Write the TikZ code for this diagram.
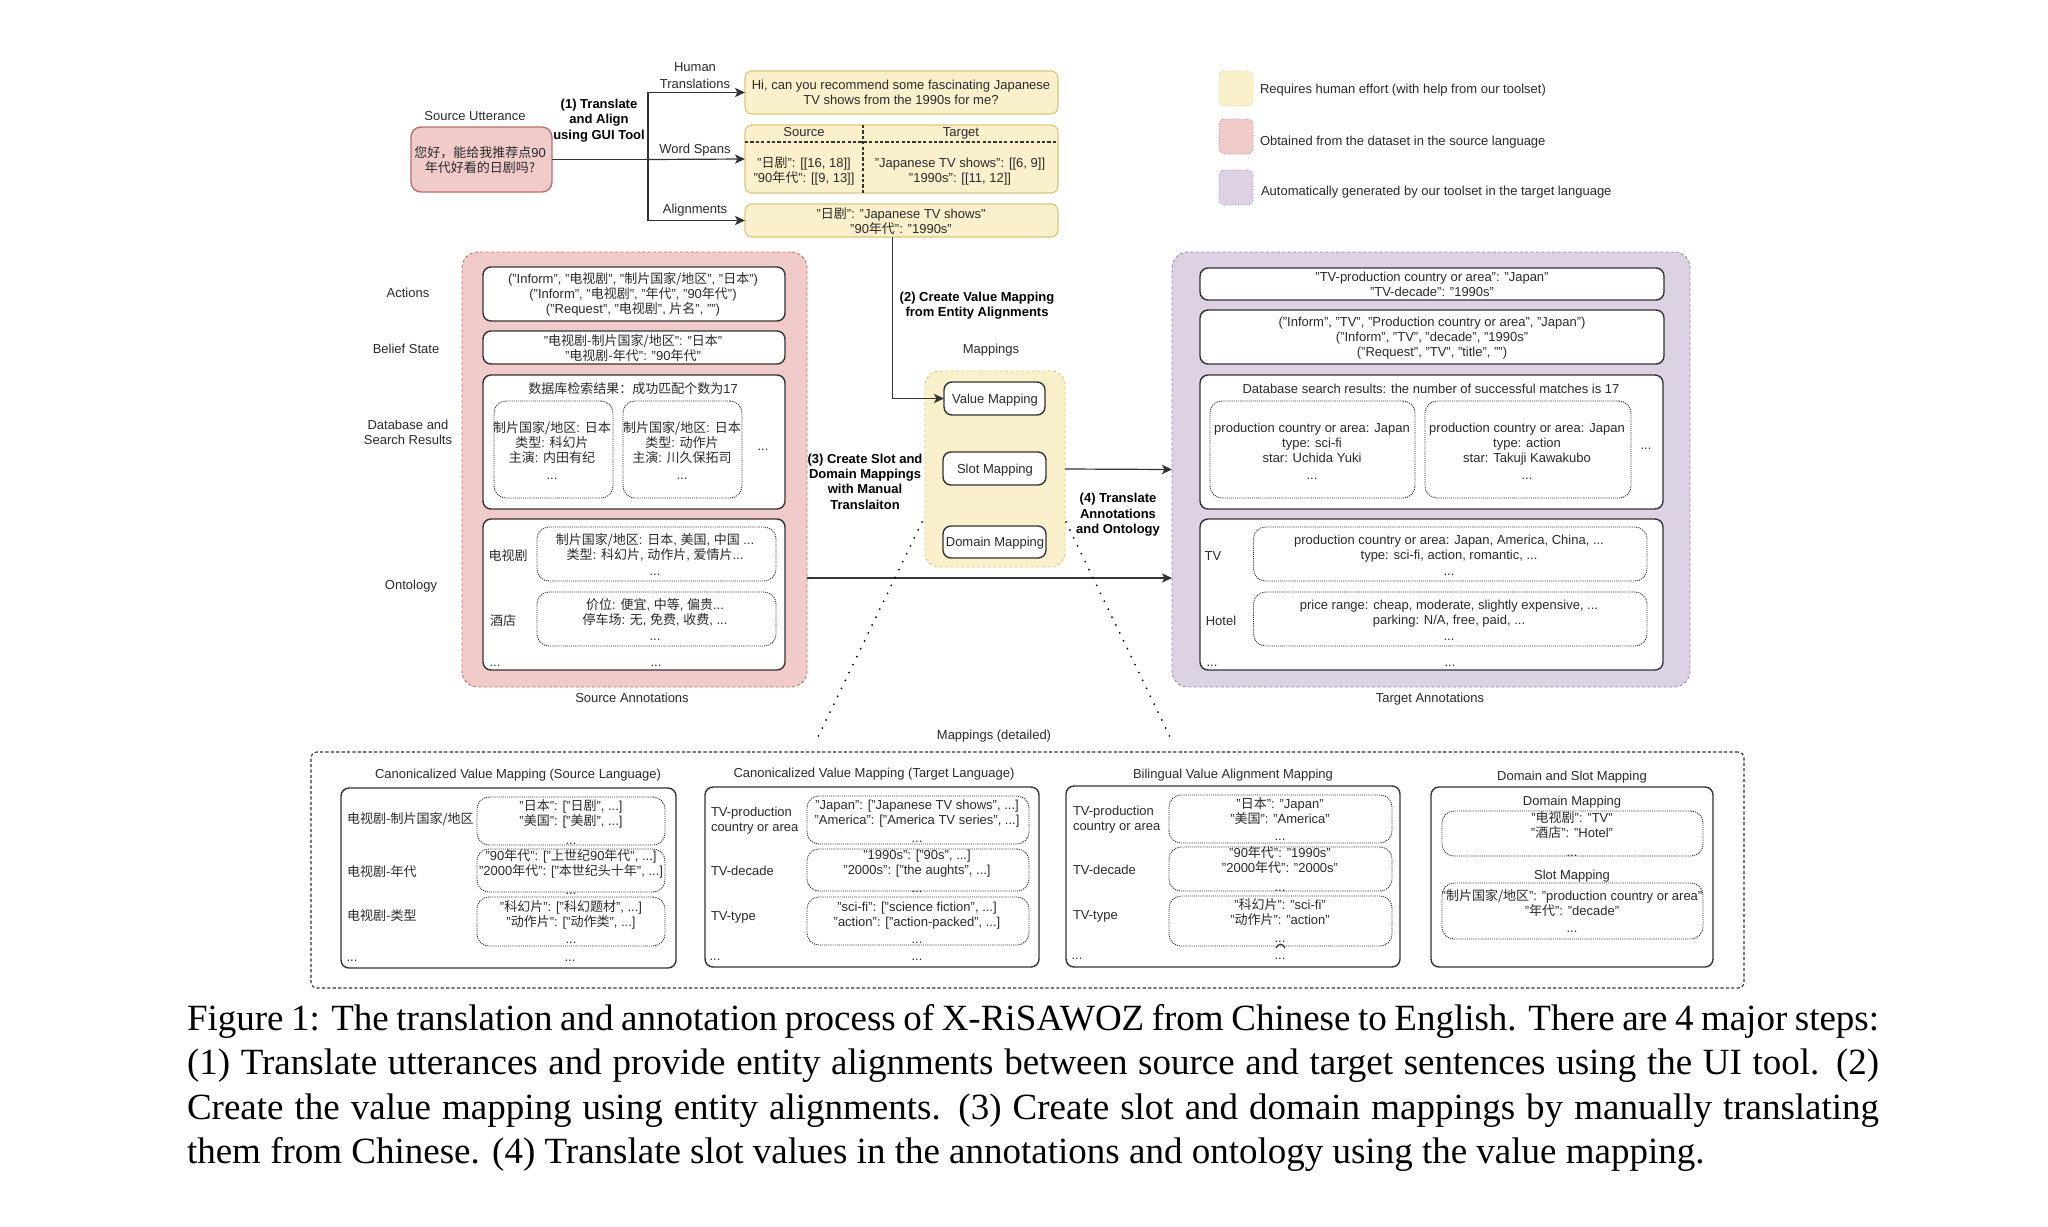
\documentclass[tikz,border=0pt]{standalone}
\usepackage{fontspec}
\setmainfont{Liberation Sans}
\newfontfamily\cjk{Noto Sans CJK SC}
\newfontfamily\capf{Liberation Serif}
\usetikzlibrary{arrows.meta,calc}
\definecolor{ink}{HTML}{2A2A2A}
\definecolor{edge}{HTML}{333333}
\definecolor{yfill}{HTML}{FBF0CC}
\definecolor{yline}{HTML}{DCC77E}
\definecolor{rfill}{HTML}{F0CBC9}
\definecolor{rline}{HTML}{B8706C}
\definecolor{pfill}{HTML}{DCD2E3}
\definecolor{pline}{HTML}{9A8AA6}
\newcommand\Z[1]{{\cjk #1}}
\newcommand\st{\vrule width 0pt height 6pt depth 1.4pt\relax}
\newcommand\bx[6]{%
  \pgfmathsetmacro\cx{(#3+#5)/2}\pgfmathsetmacro\cy{(#4+#6)/2}%
  \pgfmathsetmacro\wx{(#5-#3)*0.5}\pgfmathsetmacro\wy{(#6-#4)*0.5}%
  \node[#1,minimum width=\wx pt,minimum height=\wy pt,inner sep=0pt,outer sep=0pt] (#2) at (\cx,\cy) {};}
\newcommand\tx[5][]{\node[txt,#1] (#2) at (#3,#4) {\st #5\st};}
\tikzset{
  txt/.style={inner sep=0pt,outer sep=0pt,text=ink,align=center,font=\fontsize{6.5}{7.6}\selectfont},
  lab/.style={anchor=west,align=left},
  bld/.style={font=\fontsize{6.5}{7.7}\selectfont\bfseries,text=black},
  solidbox/.style={draw=edge,line width=0.7pt,fill=white,rounded corners=4pt},
  dotbox/.style={draw=edge,line width=0.45pt,dash pattern=on 0.55pt off 0.5pt,fill=white,rounded corners=6pt},
  ybox/.style={draw=yline,line width=0.6pt,fill=yfill,rounded corners=3.5pt},
  srcbox/.style={draw=rline,fill=rfill,line width=0.7pt,rounded corners=5pt},
  panelr/.style={draw=rline,line width=0.45pt,dash pattern=on 1.5pt off 1.2pt,fill=rfill,rounded corners=8pt},
  panelp/.style={draw=pline,line width=0.45pt,dash pattern=on 1.5pt off 1.2pt,fill=pfill,rounded corners=8pt},
  panely/.style={draw=yline,line width=0.45pt,dash pattern=on 1.5pt off 1.2pt,fill=yfill,rounded corners=7pt},
  legy/.style={draw=yline,line width=0.4pt,densely dotted,fill=yfill,rounded corners=2.5pt},
  legr/.style={draw=rline,line width=0.4pt,densely dotted,fill=rfill,rounded corners=2.5pt},
  legp/.style={draw=pline,line width=0.4pt,densely dotted,fill=pfill,rounded corners=2.5pt},
  arr/.style={draw=edge,line width=0.6pt,-{Stealth[length=5pt,width=4.6pt,inset=1.2pt]}},
  spaced/.style={draw=black,line width=1pt,line cap=round,dash pattern=on 0pt off 4.4pt},
  shortdash/.style={draw=edge,line width=0.55pt,dash pattern=on 1.6pt off 1.1pt},
}
\begin{document}
\begin{tikzpicture}[x=0.5pt,y=-0.5pt]
\useasboundingbox (0,0) rectangle (2048,1226);

% ---- step 1
\bx{srcbox}{src}{411}{127}{552}{192}
\tx{srcT}{480}{160}{\Z{您好，能给我推荐点}90\\\Z{年代好看的日剧吗?}}
\tx{srcL}{475}{116}{Source Utterance}
\tx[bld]{s1}{599}{119}{(1) Translate\\and Align\\using GUI Tool}
\tx{hl}{695}{75.5}{Human\\[0.6pt]Translations}
\tx{wl}{695}{149}{Word Spans}
\tx{al}{695}{209}{Alignments}
\bx{ybox}{b1}{745}{71}{1058}{114}
\tx{b1T}{901}{92.5}{Hi, can you recommend some fascinating Japanese\\TV shows from the 1990s for me?}
\bx{ybox}{b2}{745}{125}{1058}{193}
\coordinate (b2a) at (745,142);
\coordinate (b2b) at (1058,142);
\coordinate (b2c) at (863,125);
\coordinate (b2d) at (863,193);
\draw[shortdash] (b2a) -- (b2b);
\draw[shortdash] (b2c) -- (b2d);
\tx{b2S}{804}{132}{Source}
\tx{b2G}{961}{132}{Target}
\tx{b2L}{804}{170.5}{"\Z{日剧}": [[16, 18]]\\"90\Z{年代}": [[9, 13]]}
\tx{b2R}{960}{170.5}{"Japanese TV shows": [[6, 9]]\\"1990s": [[11, 12]]}
\bx{ybox}{b3}{745}{204}{1058}{237}
\tx{b3T}{901}{221.5}{"\Z{日剧}": "Japanese TV shows"\\"90\Z{年代}": "1990s"}
\coordinate (j) at (648,159.5);
\draw[edge,line width=0.6pt] (src.east) -- (j);
\draw[arr] (j) |- (b1.west);
\draw[arr] (j) -- (b2.west);
\draw[arr] (j) |- (b3.west);

% ---- legend
\bx{legy}{l1}{1219}{71}{1253}{106}
\bx{legr}{l2}{1219}{119}{1253}{154}
\bx{legp}{l3}{1219}{170}{1253}{205}
\tx[lab]{l1T}{1260}{88.5}{Requires human effort (with help from our toolset)}
\tx[lab]{l2T}{1260}{141}{Obtained from the dataset in the source language}
\tx[lab]{l3T}{1261}{191}{Automatically generated by our toolset in the target language}

% ---- source annotations
\tx{rA}{408}{293}{Actions}
\tx{rB}{406}{349}{Belief State}
\tx{rD}{408}{432}{Database and\\Search Results}
\tx{rO}{411}{585}{Ontology}
\bx{panelr}{sp}{462}{252}{807}{687}
\bx{solidbox}{sa}{483}{267}{785}{321}
\tx{saT}{633}{294}{("Inform", "\Z{电视剧}", "\Z{制片国家/地区}", "\Z{日本}")\\("Inform", "\Z{电视剧}", "\Z{年代}", "90\Z{年代}")\\("Request", "\Z{电视剧}", \Z{片名}", "")}
\bx{solidbox}{sb}{483}{331}{785}{364}
\tx{sbT}{633}{348}{"\Z{电视剧-制片国家/地区}": "\Z{日本}"\\"\Z{电视剧-年代}": "90\Z{年代}"}
\bx{solidbox}{sd}{483}{375}{785}{509}
\tx{sdT}{633}{389}{\Z{数据库检索结果：成功匹配个数为}17}
\bx{dotbox}{sd1}{494}{401}{613}{498}
\tx{sd1T}{552}{443}{\Z{制片国家/地区}: \Z{日本}\\\Z{类型}: \Z{科幻片}\\\Z{主演}: \Z{内田有纪}}
\tx{sd1d}{552}{475}{...}
\bx{dotbox}{sd2}{623}{401}{742}{498}
\tx{sd2T}{682}{443}{\Z{制片国家/地区}: \Z{日本}\\\Z{类型}: \Z{动作片}\\\Z{主演}: \Z{川久保拓司}}
\tx{sd2d}{682}{475}{...}
\tx{sdd}{763}{446}{...}
\bx{solidbox}{so}{483}{519}{785}{670}
\bx{dotbox}{so1}{537}{527}{776}{581}
\tx{so1T}{655}{547}{\Z{制片国家/地区}: \Z{日本}, \Z{美国}, \Z{中国} ...\\\Z{类型}: \Z{科幻片}, \Z{动作片}, \Z{爱情片}...}
\tx{so1d}{655}{571}{...}
\bx{dotbox}{so2}{537}{592}{776}{646}
\tx{so2T}{655}{612}{\Z{价位}: \Z{便宜}, \Z{中等}, \Z{偏贵}...\\\Z{停车场}: \Z{无}, \Z{免费}, \Z{收费}, ...}
\tx{so2d}{655}{636}{...}
\tx{soL1}{508}{556}{\Z{电视剧}}
\tx{soL2}{503}{621}{\Z{酒店}}
\tx{sod1}{495}{662}{...}
\tx{sod2}{656}{662}{...}
\tx{spL}{632}{698}{Source Annotations}

% ---- mappings
\tx[bld]{s2}{977}{304.5}{(2) Create Value Mapping\\from Entity Alignments}
\tx{mL}{991}{349}{Mappings}
\bx{panely}{mp}{925}{371}{1065}{567}
\bx{solidbox}{vm}{944}{382}{1045}{415}
\tx{vmT}{995}{398.5}{Value Mapping}
\bx{solidbox}{sm}{943}{452}{1046}{485}
\tx{smT}{995}{468.5}{Slot Mapping}
\bx{solidbox}{dm}{943}{526}{1046}{558}
\tx{dmT}{995}{542}{Domain Mapping}
\tx[bld]{s3}{865}{481.5}{(3) Create Slot and\\Domain Mappings\\with Manual\\Translaiton}
\tx[bld]{s4}{1118}{513.5}{(4) Translate\\Annotations\\and Ontology}
\coordinate (a0) at (892.5,237);
\draw[arr] (a0) |- (vm.west);

% ---- target annotations
\bx{panelp}{tp}{1172}{252}{1690}{687}
\bx{solidbox}{ta}{1200}{268}{1664}{300}
\tx{taT}{1432}{284}{"TV-production country or area": "Japan"\\"TV-decade": "1990s"}
\bx{solidbox}{tb}{1200}{310}{1664}{364}
\tx{tbT}{1432}{337}{("Inform", "TV", "Production country or area", "Japan")\\("Inform", "TV", "decade", "1990s"\\("Request", "TV", "title", "")}
\bx{solidbox}{td}{1200}{375}{1663}{509}
\tx{tdT}{1431}{389}{Database search results: the number of successful matches is 17}
\bx{dotbox}{td1}{1210}{401}{1415}{498}
\tx{td1T}{1312}{443}{production country or area: Japan\\type: sci-fi\\star: Uchida Yuki}
\tx{td1d}{1312}{475}{...}
\bx{dotbox}{td2}{1425}{401}{1631}{498}
\tx{td2T}{1527}{443}{production country or area: Japan\\type: action\\star: Takuji Kawakubo}
\tx{td2d}{1527}{475}{...}
\tx{tdd}{1646}{445}{...}
\bx{solidbox}{to}{1200}{519}{1663}{670}
\bx{dotbox}{to1}{1253.5}{527}{1647}{581}
\tx{to1T}{1449}{547}{production country or area: Japan, America, China, ...\\type: sci-fi, action, romantic, ...}
\tx{to1d}{1449}{571}{...}
\bx{dotbox}{to2}{1253.5}{592}{1647}{646}
\tx{to2T}{1449}{612}{price range: cheap, moderate, slightly expensive, ...\\parking: N/A, free, paid, ...}
\tx{to2d}{1449}{636}{...}
\tx{toL1}{1213}{556}{TV}
\tx{toL2}{1221}{621}{Hotel}
\tx{tod1}{1212}{662}{...}
\tx{tod2}{1450}{662}{...}
\tx{tpL}{1430}{698}{Target Annotations}

\draw[arr] (mp.east) -- (tp.west);
\coordinate (oA) at (807,578);
\coordinate (oB) at (1172,578);
\draw[arr] (oA) -- (oB);

% ---- detail box
\bx{shortdash,rounded corners=3pt}{det}{311}{752}{1744}{988}
\tx{detL}{994}{735}{Mappings (detailed)}
\coordinate (dl0) at (922,522);
\coordinate (dl1) at (816,741);
\coordinate (dr0) at (1066,522);
\coordinate (dr1) at (1172,741);
\draw[spaced] (dl0) -- (dl1);
\draw[spaced] (dr0) -- (dr1);

% A
\tx{aL}{518}{774}{Canonicalized Value Mapping (Source Language)}
\bx{solidbox}{A}{341}{788}{676}{968}
\bx{dotbox}{A1}{477}{797}{665}{845}
\bx{dotbox}{A2}{477}{849}{665}{892}
\bx{dotbox}{A3}{477}{897}{665}{946}
\tx{A1T}{571}{813.5}{"\Z{日本}": ["\Z{日剧}", ...]\\"\Z{美国}": ["\Z{美剧}", ...]}
\tx{A1d}{571}{840}{...}
\tx{A2T}{571}{863.5}{"90\Z{年代}": ["\Z{上世纪}90\Z{年代}", ...]\\"2000\Z{年代}": ["\Z{本世纪头十年}", ...]}
\tx{A2d}{571}{890}{...}
\tx{A3T}{571}{914.5}{"\Z{科幻片}": ["\Z{科幻题材}", ...]\\"\Z{动作片}": ["\Z{动作类}", ...]}
\tx{A3d}{571}{939}{...}
\tx[lab]{Al1}{347}{819}{\Z{电视剧-制片国家/地区}}
\tx[lab]{Al2}{347}{872}{\Z{电视剧-年代}}
\tx[lab]{Al3}{347}{916}{\Z{电视剧-类型}}
\tx{Ad1}{352}{957}{...}
\tx{Ad2}{570}{957}{...}

% B
\tx{bL}{874}{773}{Canonicalized Value Mapping (Target Language)}
\bx{solidbox}{B}{705}{787}{1039}{967}
\bx{dotbox}{B1}{807}{796}{1029}{844}
\bx{dotbox}{B2}{807}{849}{1029}{891}
\bx{dotbox}{B3}{807}{897}{1029}{945}
\tx{B1T}{917}{812.5}{"Japan": ["Japanese TV shows", ...]\\"America": ["America TV series", ...]}
\tx{B1d}{917}{838}{...}
\tx{B2T}{917}{862.5}{"1990s": ["90s", ...]\\"2000s": ["the aughts", ...]}
\tx{B2d}{917}{888}{...}
\tx{B3T}{917}{914.5}{"sci-fi": ["science fiction", ...]\\"action": ["action-packed", ...]}
\tx{B3d}{917}{939}{...}
\tx[lab]{Bl1}{711}{819.5}{TV-production\\country or area}
\tx[lab]{Bl2}{711}{871}{TV-decade}
\tx[lab]{Bl3}{711}{916}{TV-type}
\tx{Bd1}{715}{956}{...}
\tx{Bd2}{917}{956}{...}

% C
\tx{cL}{1233}{774}{Bilingual Value Alignment Mapping}
\bx{solidbox}{C}{1066}{786}{1400}{967}
\bx{dotbox}{C1}{1169}{795}{1392}{843}
\bx{dotbox}{C2}{1169}{847}{1392}{891}
\bx{dotbox}{C3}{1169}{896}{1392}{946}
\tx{C1T}{1280}{811.5}{"\Z{日本}": "Japan"\\"\Z{美国}": "America"}
\tx{C1d}{1280}{836}{...}
\tx{C2T}{1280}{860.5}{"90\Z{年代}": "1990s"\\"2000\Z{年代}": "2000s"}
\tx{C2d}{1280}{887}{...}
\tx{C3T}{1280}{912.5}{"\Z{科幻片}": "sci-fi"\\"\Z{动作片}": "action"}
\tx{C3d}{1280}{938}{...}
\tx[lab]{Cl1}{1073}{818.5}{TV-production\\country or area}
\tx[lab]{Cl2}{1073}{870}{TV-decade}
\tx[lab]{Cl3}{1073}{915}{TV-type}
\tx{Cd1}{1077}{955}{...}
\tx{Cd2}{1280}{955}{...}
\coordinate (ca) at (1276,948);
\coordinate (cb) at (1285,948);
\draw[edge,line width=0.6pt] (ca) .. controls (1278,943) and (1283,943) .. (cb);

% D
\tx{dL}{1572}{776}{Domain and Slot Mapping}
\bx{solidbox}{D}{1431}{787}{1713}{967}
\tx{D1L}{1572}{801}{Domain Mapping}
\bx{dotbox}{D1}{1442}{811}{1703}{856}
\tx{D1T}{1572}{825.5}{"\Z{电视剧}": "TV"\\"\Z{酒店}": "Hotel"}
\tx{D1d}{1572}{852}{...}
\tx{D2L}{1572}{875}{Slot Mapping}
\bx{dotbox}{D2}{1442}{883}{1703}{939}
\tx{D2T}{1572}{903.5}{"\Z{制片国家/地区}": "production country or area"\\"\Z{年代}": "decade"}
\tx{D2d}{1572}{928}{...}

% ---- caption
\node[anchor=north west,inner sep=0pt,outer sep=0pt,text width=846pt,align=justify,
      font=\capf\fontsize{18.5}{22.25}\selectfont,text=black] (cap) at (187,1004)
 {Figure 1: The translation and annotation process of X-RiSAWOZ from Chinese to English. There are 4 major steps:\linebreak
 (1) Translate utterances and provide entity alignments between source and target sentences using the UI tool. (2)\linebreak
 Create the value mapping using entity alignments. (3) Create slot and domain mappings by manually translating\linebreak
 them from Chinese. (4) Translate slot values in the annotations and ontology using the value mapping.};
\end{tikzpicture}
\end{document}
